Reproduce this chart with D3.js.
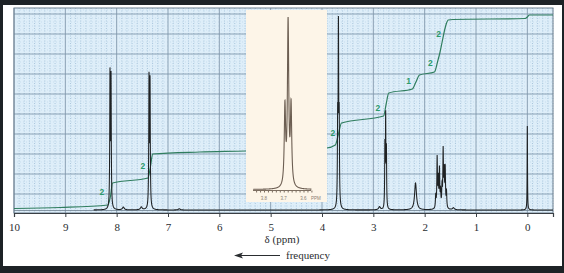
<!DOCTYPE html>
<html><head><meta charset="utf-8">
<script src="https://cdn.jsdelivr.net/npm/d3@7/dist/d3.min.js"></script>
<style>html,body{margin:0;padding:0;background:#1d2226;}svg{display:block;}</style>
</head><body>
<svg id="c" width="564" height="273"></svg>
<script>
// ---------------- data ----------------
const axisTicks = [10, 9, 8, 7, 6, 5, 4, 3, 2, 1, 0];
// main spectrum lines: position (ppm), height (0-100 scale), half width (ppm)
const peakPpm    = [8.130, 8.110, 7.370, 7.350, 7.870, 7.520, 6.780, 3.695, 3.680, 3.665, 2.775, 2.760, 2.745, 2.880, 2.178, 1.785, 1.757, 1.735, 1.712, 1.690, 1.662, 1.640, 1.620, 1.600, 1.575, 1.440, 0.000];
const peakHeight = [66,    64,    64,    62,    1.4,   1.4,   0.6,   40,    86,    40,    30,    44,    28,    1.5,   13.5,  6,     25,    14,    19,    8,     10,    28,    17,    19,    8,     1.0,   42];
const peakWidth  = [0.006, 0.006, 0.006, 0.006, 0.02,  0.02,  0.02,  0.006, 0.006, 0.006, 0.005, 0.005, 0.005, 0.02,  0.022, 0.007, 0.007, 0.007, 0.007, 0.007, 0.007, 0.007, 0.007, 0.007, 0.007, 0.02,  0.004];
// integral trace
const integralPpm   = [10.0, 9.1, 8.17, 8.12, 8.08, 7.39, 7.34, 7.30, 6.38, 5.49, 3.91, 3.74, 3.68, 3.62, 2.80, 2.75, 2.70, 2.24, 2.17, 2.10, 1.81, 1.75, 1.70, 1.66, 1.62, 1.58, 1.54, 1.45, 0.04, 0.00, -0.04, -0.5];
const integralValue = [0.75, 1.25, 2.5, 7, 13.5, 16, 22, 28, 29, 29.5, 31, 32.5, 38, 43.5, 47, 53, 58.5, 60.5, 64, 67.5, 69, 74, 79, 84, 89, 93, 95, 95.25, 95.75, 96.5, 97.5, 97.5];
// integral labels
const labelText  = ["2", "2", "2", "2", "1", "2", "2"];
const labelPpm   = [8.29, 7.49, 3.79, 2.91, 2.315, 1.887, 1.73];
const labelValue = [9, 22, 38.5, 51.25, 64.5, 73.5, 88];
// inset (expanded 3.68 ppm triplet)
const insetTicks = [3.8, 3.7, 3.6];
const insetPeakPpm    = [3.694, 3.678, 3.663];
const insetPeakHeight = [45.4, 94.3, 45.4];
const insetPeakWidth  = [0.004, 0.004, 0.004];

// ---------------- drawing ----------------
const svg = d3.select("#c");
// photo frame
svg.append("rect").attr("x", 3).attr("y", 5).attr("width", 559).attr("height", 261).attr("fill", "#ffffff");

const X0 = 14, X1 = 553, Y0 = 8, YB = 213;
const x = d3.scaleLinear().domain([10, -0.5]).range([X0, X1]);
const y = d3.scaleLinear().domain([0, 100]).range([210, 10]);

// plot background
svg.append("rect").attr("x", X0).attr("y", Y0).attr("width", X1 - X0).attr("height", YB - Y0).attr("fill", "#deeef9");

const grid = svg.append("g");
// minor vertical dotted lines every 0.1 ppm
const minorV = d3.range(-5, 101).map(i => i / 10).filter(v => Math.abs(v - Math.round(v)) > 1e-6);
grid.selectAll(".mv").data(minorV).join("line")
  .attr("x1", d => x(d)).attr("x2", d => x(d)).attr("y1", Y0).attr("y2", YB)
  .attr("stroke", "#9dbdd6").attr("stroke-width", 0.8).attr("stroke-dasharray", "1,1.5");
// minor horizontal dotted lines every 4 px
const minorH = d3.range(Y0 + 2, YB, 4);
grid.selectAll(".mh").data(minorH).join("line")
  .attr("x1", X0).attr("x2", X1).attr("y1", d => d).attr("y2", d => d)
  .attr("stroke", "#b9d3e6").attr("stroke-width", 0.6).attr("stroke-dasharray", "1,2");
// major lines
const majorV = d3.range(0, 11);
grid.selectAll(".MV").data(majorV).join("line")
  .attr("x1", d => x(d)).attr("x2", d => x(d)).attr("y1", Y0).attr("y2", YB)
  .attr("stroke", "#8299ad").attr("stroke-width", 0.9);
const majorH = d3.range(14, 200, 20);
grid.selectAll(".MH").data(majorH).join("line")
  .attr("x1", X0).attr("x2", X1).attr("y1", d => d).attr("y2", d => d)
  .attr("stroke", "#8299ad").attr("stroke-width", 0.9);
// frame
svg.append("rect").attr("x", X0).attr("y", Y0).attr("width", X1 - X0).attr("height", YB - Y0)
  .attr("fill", "none").attr("stroke", "#6d7f8e").attr("stroke-width", 1);
svg.append("line").attr("x1", X0).attr("x2", X1).attr("y1", 210.5).attr("y2", 210.5).attr("stroke", "#6d7f8e").attr("stroke-width", 0.8);

// integral curve
const integralData = integralPpm.map((p, i) => [x(p), y(integralValue[i])]);
svg.append("path").attr("d", d3.line().curve(d3.curveMonotoneX)(integralData))
  .attr("fill", "none").attr("stroke", "#2f7d5e").attr("stroke-width", 1.2);

// spectrum
function lorentz(pp, ps, hs, ws) {
  let s = 0;
  for (let i = 0; i < ps.length; i++) { const d = pp - ps[i]; s += hs[i] * ws[i] * ws[i] / (d * d + ws[i] * ws[i]); }
  return s;
}
let samples = d3.range(-0.5, 8.45, 0.004);
peakPpm.forEach(p => { samples = samples.concat(d3.range(p - 0.06, p + 0.06, 0.0005)); });
samples = samples.filter(p => p >= -0.5 && p <= 8.45).sort((a, b) => a - b);
const specData = samples.map(p => [x(p), y(lorentz(p, peakPpm, peakHeight, peakWidth))]);
svg.append("path").attr("d", d3.line()(specData))
  .attr("fill", "none").attr("stroke", "#1f2224").attr("stroke-width", 1.05);

// integral labels
svg.selectAll(".lab").data(labelText).join("text")
  .attr("x", (d, i) => x(labelPpm[i])).attr("y", (d, i) => y(labelValue[i]) + 3)
  .attr("text-anchor", "middle").attr("font-family", "Liberation Sans, Arial, sans-serif")
  .attr("font-weight", "bold").attr("font-size", 8.5).attr("fill", "#2b9a6c").text(d => d);

// inset
const ins = svg.append("g");
ins.append("rect").attr("x", 246).attr("y", 10).attr("width", 81).attr("height", 192).attr("fill", "#fdf5e8");
const xi = d3.scaleLinear().domain([3.8, 3.6]).range([264, 303.5]);
const yi = d3.scaleLinear().domain([0, 100]).range([189.5, 17]);
const insetAxis = d3.axisBottom(xi).tickValues(d3.range(3.56, 3.86, 0.02)).tickSize(2).tickFormat("");
const ia = ins.append("g").attr("transform", "translate(0,190.5)").call(insetAxis);
ia.select(".domain").attr("stroke", "#7d6f62").attr("d", "M253,0H311");
ia.selectAll(".tick line").attr("stroke", "#7d6f62");
ins.selectAll(".itl").data(insetTicks).join("text")
  .attr("x", d => xi(d)).attr("y", 200).attr("text-anchor", "middle")
  .attr("font-family", "Liberation Sans, Arial, sans-serif").attr("font-size", 4.5).attr("fill", "#8a7e72")
  .text(d => d.toFixed(1));
ins.append("text").attr("x", 316).attr("y", 200).attr("text-anchor", "middle")
  .attr("font-family", "Liberation Sans, Arial, sans-serif").attr("font-size", 4.5).attr("fill", "#8a7e72").text("PPM");
let isamp = d3.range(3.56, 3.855, 0.001);
insetPeakPpm.forEach(p => { isamp = isamp.concat(d3.range(p - 0.03, p + 0.03, 0.0002)); });
isamp.sort((a, b) => a - b);
const insData = isamp.map(p => [xi(p), yi(lorentz(p, insetPeakPpm, insetPeakHeight, insetPeakWidth))]);
ins.append("path").attr("d", d3.line()(insData)).attr("fill", "none").attr("stroke", "#6c5e52").attr("stroke-width", 1.1);

// bottom axis
const ax = svg.append("g").attr("transform", `translate(0,${YB})`)
  .call(d3.axisBottom(x).tickValues(axisTicks).tickSize(4).tickFormat(d3.format("d")));
ax.select(".domain").attr("stroke", "#3a3f44").attr("stroke-width", 1.2);
ax.selectAll(".tick line").attr("stroke", "#3a3f44");
ax.selectAll(".tick text").attr("font-family", "Liberation Serif, Times New Roman, serif")
  .attr("font-size", 11).attr("fill", "#2a2d30").attr("dy", "0.71em").attr("y", 10);

// axis title
svg.append("text").attr("x", 282).attr("y", 243).attr("text-anchor", "middle")
  .attr("font-family", "Liberation Serif, Times New Roman, serif").attr("font-size", 11).attr("fill", "#2a2d30")
  .text("δ (ppm)");
svg.append("text").attr("x", 286).attr("y", 259)
  .attr("font-family", "Liberation Serif, Times New Roman, serif").attr("font-size", 11).attr("fill", "#2a2d30")
  .text("frequency");
svg.append("line").attr("x1", 241).attr("x2", 280).attr("y1", 255.5).attr("y2", 255.5).attr("stroke", "#2a2d30").attr("stroke-width", 1);
svg.append("path").attr("d", "M234,255.5L243,252.5L241,255.5L243,258.5Z").attr("fill", "#2a2d30");
</script>
</body></html>
